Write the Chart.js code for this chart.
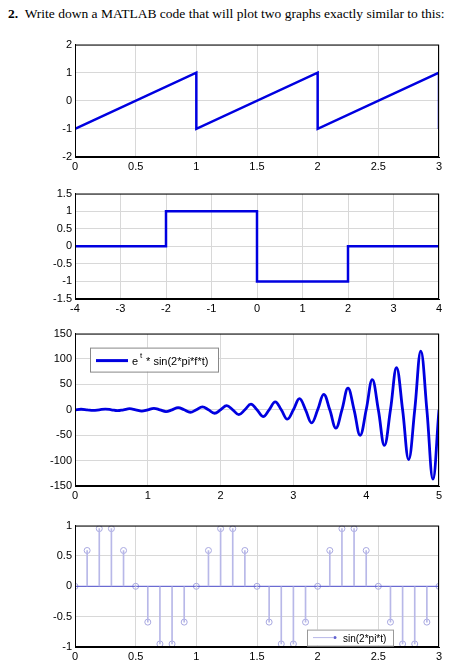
<!DOCTYPE html><html><head><meta charset="utf-8">
<script src="https://cdn.jsdelivr.net/npm/chart.js@4"></script>
<style>body{margin:0;background:#fff;width:474px;height:671px;position:relative;overflow:hidden}
.c{position:absolute;left:40px;width:410px}
#t{position:absolute;left:8px;top:6px;font-family:"Liberation Serif",serif;font-size:13.5px;color:#000;white-space:nowrap}</style></head><body>
<div id="t"><b>2.</b>&nbsp; Write down a MATLAB code that will plot two graphs exactly similar to this:</div>
<div class="c" style="top:35px;height:140px"><canvas id="c1"></canvas></div>
<div class="c" style="top:184px;height:133px"><canvas id="c2"></canvas></div>
<div class="c" style="top:324px;height:180px"><canvas id="c3"></canvas></div>
<div class="c" style="top:516px;height:149px"><canvas id="c4"></canvas></div>
<script>
const sawX=[0,1,1,2,2,3,3], sawY=[-1,1,-1,1,-1,1,-1];
const sqX=[-4,-2,-2,0,0,2,2,4], sqY=[0,0,1,1,-1,-1,0,0];
const expT=[];for(let k=0;k<=60;k++)expT.push(k/12);
const expY=[0,1.09,0,-1.28,0,1.52,0,-1.79,0,2.12,0,-2.50,0,2.95,0,-3.49,0,4.12,0,-4.87,0,5.75,0,-6.80,0,8.03,0,-9.49,0,11.21,0,-13.24,0,15.64,0,-18.48,0,21.83,0,-25.79,0,30.47,0,-36.0,0,42.5,0,-50.2,0,59.3,0,-70.1,0,82.8,0,-97.8,0,115.6,0,-136.6,0];
const stemT=[0,0.1,0.2,0.3,0.4,0.5,0.6,0.7,0.8,0.9,1,1.1,1.2,1.3,1.4,1.5,1.6,1.7,1.8,1.9,2,2.1,2.2,2.3,2.4,2.5,2.6,2.7,2.8,2.9,3];
const stemY=[0,0.59,0.95,0.95,0.59,0,-0.59,-0.95,-0.95,-0.59,0,0.59,0.95,0.95,0.59,0,-0.59,-0.95,-0.95,-0.59,0,0.59,0.95,0.95,0.59,0,-0.59,-0.95,-0.95,-0.59,0];
const pts=(xs,ys)=>xs.map((x,i)=>({x,y:ys[i]}));
const F={family:'Arial, "Liberation Sans"',size:11};
const grid={color:'#d8d8d8',borderDash:[1,2],drawTicks:false};
const fmt=v=>String(+(+v).toFixed(2));
function axes(xmin,xmax,xs,ymin,ymax,ys){
 return {x:{type:'linear',offset:false,min:xmin,max:xmax,ticks:{stepSize:xs,font:F,color:'#000',padding:3,callback:fmt},grid:{...grid,offset:false},border:{color:'#000'},afterFit:a=>{a.height=18}},
 y:{min:ymin,max:ymax,ticks:{stepSize:ys,font:F,color:'#000',padding:3,callback:fmt},grid,border:{color:'#000'},afterFit:a=>{a.width=35}}};
}
const box={id:'box',afterDraw(c){const a=c.chartArea,g=c.ctx;g.save();g.strokeStyle='#000';g.lineWidth=1;g.strokeRect(a.left+.5,a.top+.5,a.width-1,a.height-1);g.restore();}};
function base(extra){return {responsive:true,maintainAspectRatio:false,animation:false,layout:{padding:{top:4,right:11}},plugins:{legend:{display:false},tooltip:{enabled:false}},...extra};}
new Chart(c1,{type:'line',data:{datasets:[{data:pts(sawX,sawY),borderColor:'#0000e0',borderWidth:2.5,pointRadius:0,tension:0}]},options:base({scales:axes(0,3,0.5,-2,2,1)}),plugins:[box]});
new Chart(c2,{type:'line',data:{datasets:[{data:pts(sqX,sqY),borderColor:'#0000e0',borderWidth:2.5,pointRadius:0,tension:0}]},options:base({scales:axes(-4,4,1,-1.5,1.5,0.5)}),plugins:[box]});
const leg3={id:'leg3',afterDraw(c){const a=c.chartArea,g=c.ctx;g.save();const x=a.left+15,y=a.top+14;g.fillStyle='#fff';g.fillRect(x,y,128,24);g.strokeStyle='#888';g.lineWidth=1;g.strokeRect(x+.5,y+.5,128,24);g.strokeStyle='#0000e0';g.lineWidth=3;g.beginPath();g.moveTo(x+6,y+13);g.lineTo(x+38,y+13);g.stroke();g.fillStyle='#000';g.font='11px Arial';g.fillText('e',x+42,y+17);g.font='8px Arial';g.fillText('t',x+50,y+10);g.font='11px Arial';g.fillText(' * sin(2*pi*f*t)',x+53,y+17);g.restore();}};
new Chart(c3,{type:'line',data:{datasets:[{data:pts(expT,expY),borderColor:'#0000e0',borderWidth:2.8,pointRadius:0,tension:0.4}]},options:base({scales:axes(0,5,1,-150,150,50)}),plugins:[box,leg3]});
const leg4={id:'leg4',afterDraw(c){const a=c.chartArea,g=c.ctx;g.save();const x=a.left+232,y=a.top+104;g.fillStyle='#fff';g.fillRect(x,y,86,16);g.strokeStyle='#999';g.lineWidth=1;g.strokeRect(x+.5,y+.5,86,16);g.strokeStyle='#b8b8e8';g.beginPath();g.moveTo(x+6,y+8);g.lineTo(x+26,y+8);g.stroke();g.fillStyle='#6060d0';g.beginPath();g.arc(x+28,y+8,1.5,0,7);g.fill();g.fillStyle='#000';g.font='10px Arial';g.fillText('sin(2*pi*t)',x+36,y+12);g.restore();}};
new Chart(c4,{data:{datasets:[
 {type:'bar',data:pts(stemT,stemY),backgroundColor:'#b8b8e8',barThickness:1,borderWidth:0},
 {type:'line',data:pts([0,3],[0,0]),borderColor:'#5050d0',borderWidth:1,pointRadius:0},
 {type:'scatter',data:pts(stemT,stemY),pointStyle:'circle',pointRadius:3,borderColor:'#a8a8e0',backgroundColor:'rgba(0,0,0,0)',borderWidth:1}
 ]},options:base({scales:axes(0,3,0.5,-1,1,0.5)}),plugins:[box,leg4]});
</script></body></html>
